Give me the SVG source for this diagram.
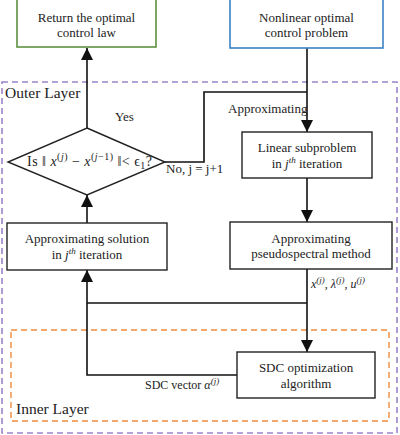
<svg xmlns="http://www.w3.org/2000/svg" width="400" height="435" viewBox="0 0 400 435">
<style>
text{font-family:"Liberation Serif","Times New Roman",serif;font-size:13px;fill:#222}
.c{text-anchor:middle}
.big{font-size:15.5px}
.sm{font-size:12px}
.box{fill:#fff;stroke:#222;stroke-width:1.4}
.ln{fill:none;stroke:#111;stroke-width:1.6}
.m{font-style:italic}
.n{font-style:normal}
.sup{font-size:9px}
.dm{font-size:14px}
.dsup{font-size:10px}
</style>
<defs>
<marker id="ah" markerUnits="userSpaceOnUse" markerWidth="13" markerHeight="12" refX="12" refY="6" orient="auto" viewBox="0 0 13 12">
<path d="M0,0 L12,6 L0,12 Z" fill="#111"/>
</marker>
</defs>
<rect x="2" y="82" width="395" height="351" fill="none" stroke="#9b84c9" stroke-width="1.6" stroke-dasharray="6,4"/>
<rect x="11" y="330" width="378" height="91" fill="none" stroke="#ee8a3c" stroke-width="1.4" stroke-dasharray="6,4"/>
<text x="5" y="98" class="big">Outer Layer</text>
<text x="16" y="414" class="big">Inner Layer</text>
<g id="connectors">
<line class="ln" x1="87" y1="128" x2="87" y2="48" marker-end="url(#ah)"/>
<line class="ln" x1="307" y1="48" x2="307" y2="132" marker-end="url(#ah)"/>
<polyline class="ln" points="165,162 204,162 204,92 307,92"/>
<line class="ln" x1="307" y1="178" x2="307" y2="222" marker-end="url(#ah)"/>
<line class="ln" x1="307" y1="269" x2="307" y2="352" marker-end="url(#ah)"/>
<line class="ln" x1="307" y1="303" x2="87" y2="303"/>
<polyline class="ln" points="237,375 87,375 87,270" marker-end="url(#ah)"/>
<line class="ln" x1="87" y1="223" x2="87" y2="195" marker-end="url(#ah)"/>
</g>
<g id="return">
<rect x="17" y="-1" width="139" height="48" fill="#fff" stroke="#5e9140" stroke-width="1.6"/>
<text class="c" x="86.5" y="22">Return the optimal</text>
<text class="c" x="86.5" y="37">control law</text>
</g>
<g id="nonlinear">
<rect x="230" y="-1" width="153" height="49" fill="#fff" stroke="#3b82c4" stroke-width="1.6"/>
<text class="c" x="306.5" y="22">Nonlinear optimal</text>
<text class="c" x="306.5" y="37">control problem</text>
</g>
<g id="decision">
<polygon points="87,128 165,162 87,195 8,162" class="box"/>
<text x="27" y="166" class="dm" textLength="125" lengthAdjust="spacing">Is ‖ <tspan class="m">x</tspan><tspan class="dsup" dy="-6">(<tspan class="m">j</tspan>)</tspan><tspan dy="6"> − </tspan><tspan class="m">x</tspan><tspan class="dsup" dy="-6">(<tspan class="m">j</tspan>−1)</tspan><tspan dy="6"> ‖&lt; ϵ</tspan><tspan class="dsup" dy="3">1</tspan><tspan dy="-3">?</tspan></text>
</g>
<text x="115" y="121">Yes</text>
<text x="166" y="173">No, j = j+1</text>
<text x="228" y="113">Approximating</text>
<g id="linear">
<rect x="242" y="132" width="130" height="46" class="box"/>
<text class="c" x="307" y="152">Linear subproblem</text>
<text class="c" x="307" y="168">in <tspan class="m">j</tspan><tspan class="sup m" dy="-5">th</tspan><tspan dy="5"> iteration</tspan></text>
</g>
<g id="pseudo">
<rect x="230" y="222" width="162" height="47" class="box"/>
<text class="c" x="311" y="243">Approximating</text>
<text class="c" x="311" y="258">pseudospectral method</text>
</g>
<text x="311" y="288" class="m sm">x<tspan class="sup" dy="-5">(j)</tspan><tspan dy="5" class="n">, </tspan>λ<tspan class="sup" dy="-5">(j)</tspan><tspan dy="5" class="n">, </tspan>u<tspan class="sup" dy="-5">(j)</tspan></text>
<g id="approxsol">
<rect x="7" y="223" width="160" height="47" class="box"/>
<text class="c" x="87" y="243">Approximating solution</text>
<text class="c" x="87" y="259">in <tspan class="m">j</tspan><tspan class="sup m" dy="-5">th</tspan><tspan dy="5"> iteration</tspan></text>
</g>
<g id="sdc">
<rect x="237" y="352" width="138" height="46" class="box"/>
<text class="c" x="306" y="372">SDC optimization</text>
<text class="c" x="306" y="388">algorithm</text>
</g>
<text x="145" y="389" class="sm">SDC vector <tspan class="m">α</tspan><tspan class="sup m" dy="-5">(j)</tspan></text>
</svg>
